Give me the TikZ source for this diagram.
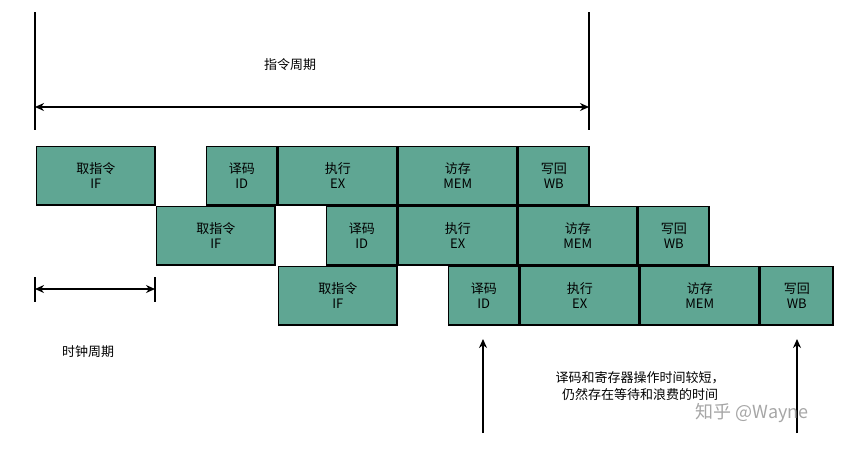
\documentclass[tikz,border=0pt]{standalone}
\usepackage{fontspec}
\setmainfont{Noto Sans CJK SC}
\usetikzlibrary{arrows.meta}
\definecolor{teal1}{HTML}{5FA693}
\begin{document}
\begin{tikzpicture}[x=1pt,y=-1pt,
  stage/.style={draw=black,line width=1.5pt,fill=teal1,inner sep=0pt,align=center,font=\fontsize{13}{15}\selectfont},
  arr/.style={line width=1.4pt,-{Stealth[length=9pt,width=8pt]}},
  darr/.style={line width=1.4pt,{Stealth[length=9pt,width=8pt]}-{Stealth[length=9pt,width=8pt]}},
  lab/.style={font=\fontsize{13}{16}\selectfont,align=center}]
\useasboundingbox (0,0) rectangle (854,453);
\newcommand\stg[6]{\node[stage,minimum width=#3pt-1.5pt,minimum height=58.5pt,anchor=north west] (#1) at (#2+0.75,#4+0.75) {#5\\#6};}
% row1
\stg{a1}{35}{120}{145}{取指令}{IF}
\stg{a2}{205}{72}{145}{译码}{ID}
\stg{a3}{277}{120}{145}{执行}{EX}
\stg{a4}{397}{120}{145}{访存}{MEM}
\stg{a5}{517}{72}{145}{写回}{WB}
% row2
\stg{b1}{155}{120}{205}{取指令}{IF}
\stg{b2}{325}{72}{205}{译码}{ID}
\stg{b3}{397}{120}{205}{执行}{EX}
\stg{b4}{517}{120}{205}{访存}{MEM}
\stg{b5}{637}{72}{205}{写回}{WB}
% row3
\stg{c1}{277}{120}{265}{取指令}{IF}
\stg{c2}{447}{72}{265}{译码}{ID}
\stg{c3}{519}{120}{265}{执行}{EX}
\stg{c4}{639}{120}{265}{访存}{MEM}
\stg{c5}{759}{74}{265}{写回}{WB}
% instruction cycle
\coordinate (t1) at (35,12); \coordinate (t2) at (35,130);
\coordinate (u1) at (589,12); \coordinate (u2) at (589,130);
\draw[line width=1.4pt] (t1)--(t2) (u1)--(u2);
\coordinate (p1) at (35,107); \coordinate (p2) at (589,107);
\draw[darr] (p1)--(p2);
\node[lab] (ic) at (290,65) {指令周期};
% clock cycle
\coordinate (k1) at (35,277); \coordinate (k2) at (35,302);
\coordinate (k3) at (155,277); \coordinate (k4) at (155,302);
\draw[line width=1.4pt] (k1)--(k2) (k3)--(k4);
\coordinate (q1) at (35,289); \coordinate (q2) at (155,289);
\draw[darr] (q1)--(q2);
\node[lab] (cc) at (88,352) {时钟周期};
% up arrows
\coordinate (m1) at (483,433); \coordinate (m2) at (483,339);
\coordinate (n1) at (797,433); \coordinate (n2) at (797,339);
\draw[arr] (m1)--(m2);
\draw[arr] (n1)--(n2);
\node[lab,font=\fontsize{13}{17}\selectfont] (note) at (640,386) {译码和寄存器操作时间较短，\\仍然存在等待和浪费的时间};
\node[font=\fontsize{18}{20}\selectfont,text=black!35] (wm) at (752,413) {知乎 @Wayne};
\end{tikzpicture}
\end{document}
